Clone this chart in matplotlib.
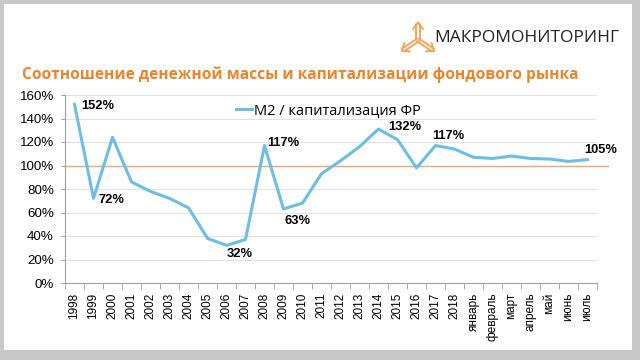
import numpy as np
import matplotlib.pyplot as plt
from matplotlib.patches import Rectangle
from matplotlib.lines import Line2D

labels = ["1998", "1999", "2000", "2001", "2002", "2003", "2004", "2005", "2006",
          "2007", "2008", "2009", "2010", "2011", "2012", "2013", "2014", "2015",
          "2016", "2017", "2018", "январь", "февраль", "март", "апрель", "май",
          "июнь", "июль"]
ratio = [152, 72, 124, 86, 78, 72, 64, 38, 32, 37, 117, 63, 68, 93, 104, 116,
         131, 122, 98, 117, 114, 107, 106, 108, 106, 105.5, 103.5, 105]
ticks_y = [0, 20, 40, 60, 80, 100, 120, 140, 160]

# annotated points: index, text, offset in points
notes = [(0, "152%", (5, -1.5)), (1, "72%", (3.6, -1.5)), (8, "32%", (0, -6.5)),
         (10, "117%", (2, 2)), (11, "63%", (0.7, -8.6)), (16, "132%", (7, 1.5)),
         (19, "117%", (-2, 6.5)), (27, "105%", (-2, 7))]

orange = "#e8852e"
blue = "#6dbde4"

fig = plt.figure(figsize=(6.4, 3.6), dpi=100)
fig.patch.set_facecolor("#c8c8c8")
fig.patches.append(Rectangle((0.006, 0.028), 0.982, 0.962, transform=fig.transFigure,
                             facecolor="white", edgecolor="none", zorder=-10))

ax = fig.add_axes([65/640, 1-283/360, 532/640, 188/360])
ax.patch.set_alpha(0)
x = np.arange(len(labels))
y = np.array(ratio)/100.0

ax.set_ylim(0, 1.6)
ax.set_xlim(-0.5, len(labels)-0.5)
ax.set_yticks(np.array(ticks_y)/100.0)
ax.set_yticklabels(["%d%%" % t for t in ticks_y], fontsize=9.6, family="Liberation Sans")
ax.set_xticks(x)
ax.set_xticklabels(labels, rotation=90, fontsize=8.5, family="Liberation Sans")
ax.set_xticks(np.arange(len(labels)+1)-0.5, minor=True)
ax.tick_params(axis="x", which="major", length=0, pad=7)
ax.tick_params(axis="x", which="minor", length=4, color="#a0a0a0")
ax.tick_params(axis="y", length=3, color="#a0a0a0", pad=5)
ax.grid(True, axis="y", color="#e2e2e2", linewidth=0.8)
ax.set_axisbelow(True)
for s in ["top", "right"]:
    ax.spines[s].set_visible(False)
for s in ["left", "bottom"]:
    ax.spines[s].set_color("#a0a0a0")
    ax.spines[s].set_linewidth(0.8)

ax.plot([0, 1.02], [1.0, 1.0], color="#e8a878", lw=1.0, transform=ax.get_yaxis_transform(),
        clip_on=False, zorder=2)
ax.plot(x, y, color=blue, lw=2.2, label="M2 / капитализация ФР", zorder=3)

for i, t, off in notes:
    ax.annotate(t, (x[i], y[i]), xytext=off, textcoords="offset points",
                fontsize=9.3, fontweight="bold", family="Liberation Sans",
                ha="left", va="center")

leg = ax.legend(loc="center", bbox_to_anchor=(0.495, 0.915), frameon=False,
                handlelength=1.1, handletextpad=0.1, prop={"family": "Open Sans", "size": 10.5})

fig.text(22/640, 1-75/360, "Соотношение денежной массы и капитализации фондового рынка",
         color=orange, fontsize=11.2, fontweight="bold", family="Open Sans",
         ha="left", va="center")
fig.text(434/640, 1-38/360, "МАКРОМОНИТОРИНГ", color="#222222", fontsize=12.5,
         family="Open Sans", ha="left", va="center")


# logo: three double arrows from a common centre
def pline(xs, ys):
    fig.lines.append(Line2D([v/640 for v in xs], [1-v/360 for v in ys],
                            transform=fig.transFigure, color="#eda860", lw=1.4,
                            solid_capstyle="round"))

cx, cy = 418, 40
for tx, ty in [(418, 24), (403, 50), (433, 50)]:
    dx, dy = tx-cx, ty-cy
    n = np.hypot(dx, dy)
    ux, uy = dx/n, dy/n
    nx, ny = -uy, ux
    for sh in (-1.6, 1.6):
        pline([cx+nx*sh, tx+nx*sh], [cy+ny*sh, ty+ny*sh])
    # arrow head
    for sh in (-5, 5):
        pline([tx-ux*5+nx*sh, tx+ux*1.5], [ty-uy*5+ny*sh, ty+uy*1.5])

fig.savefig("out.png", dpi=100, facecolor=fig.get_facecolor())
